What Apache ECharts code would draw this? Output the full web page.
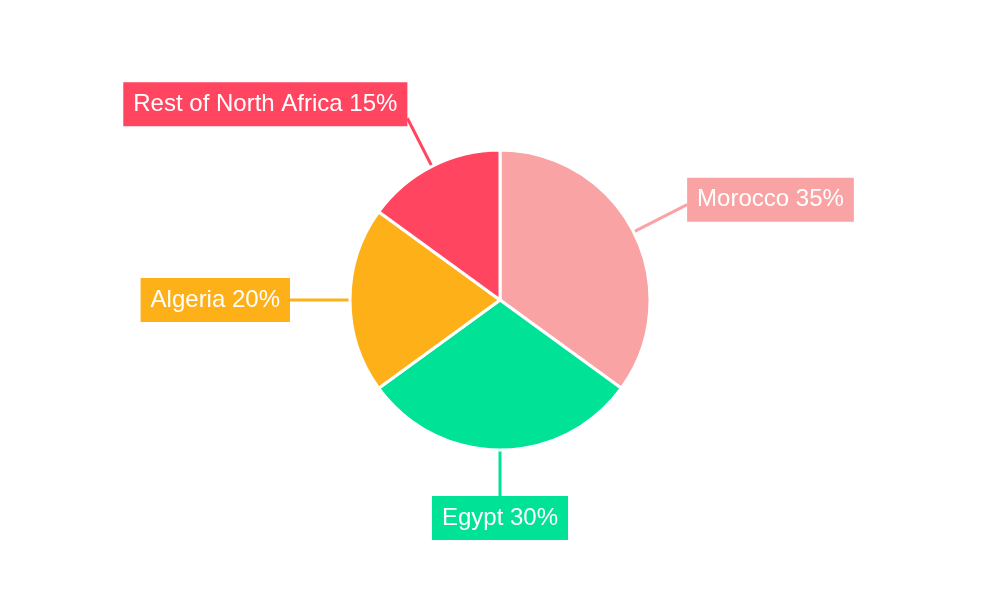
<!DOCTYPE html>
<html lang="en">
<head>
    <meta charset="UTF-8">
    <title>North Africa share</title>
    <style>
        * { margin: 0; }
        html, body, #chart { width: 100%; height: 100%; background: #fff; }
    </style>
</head>
<body>
    <div id="chart"></div>
    <script src="https://cdn.jsdelivr.net/npm/echarts@6/dist/echarts.min.js"></script>
    <script>
        var names = ['Morocco', 'Egypt', 'Algeria', 'Rest of North Africa'];
        var values = [35, 30, 20, 15];
        var colors = ['#F9A3A4', '#00E396', '#FEB019', '#FF4560'];

        // label placement relative to the end of each label line
        var lineLen = [60, 46, 60, 54];
        var labelAlign = ['left', 'center', 'right', 'right'];
        var labelVAlign = ['middle', 'top', 'middle', 'bottom'];
        var labelShiftY = [-5, 0, 0, 8];

        var data = [];
        for (var i = 0; i < names.length; i++) {
            data.push({
                name: names[i],
                value: values[i],
                itemStyle: { color: colors[i] },
                label: { backgroundColor: colors[i] },
                labelLine: { length: lineLen[i], lineStyle: { color: colors[i] } }
            });
        }

        var chart = echarts.init(document.getElementById('chart'));
        chart.setOption({
            animation: false,
            series: [{
                type: 'pie',
                center: [500, 300],
                radius: [0, 150],
                startAngle: 90,
                clockwise: true,
                data: data,
                itemStyle: { borderColor: '#fff', borderWidth: 3 },
                label: {
                    show: true,
                    position: 'outside',
                    formatter: '{b} {c}%',
                    color: '#fff',
                    fontFamily: 'Liberation Sans',
                    fontSize: 24,
                    lineHeight: 24,
                    padding: [10, 10],
                    distanceToLabelLine: 0
                },
                labelLine: {
                    show: true,
                    length2: 0,
                    lineStyle: { width: 3 }
                },
                labelLayout: function (p) {
                    var pts = p.labelLinePoints;
                    if (!pts) return {};
                    var end = pts[pts.length - 1];
                    var i = p.dataIndex;
                    return {
                        x: end[0],
                        y: end[1] + labelShiftY[i],
                        align: labelAlign[i],
                        verticalAlign: labelVAlign[i],
                        labelLinePoints: pts
                    };
                }
            }]
        });
    </script>
</body>
</html>
